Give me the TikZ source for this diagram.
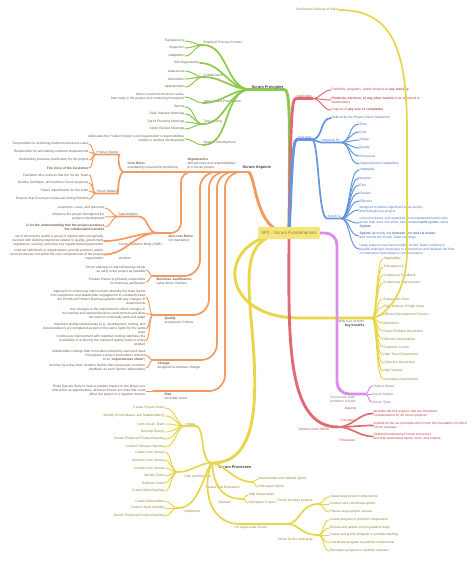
\documentclass[tikz,border=0pt]{standalone}
\usepackage{fontspec}
\setmainfont{Liberation Sans}
\usetikzlibrary{backgrounds}

\definecolor{grnL}{HTML}{8CC84B}
\definecolor{grnT}{HTML}{5F6A4A}
\definecolor{orgL}{HTML}{F29A60}
\definecolor{orgT}{HTML}{6E5A4C}
\definecolor{redL}{HTML}{E16B73}
\definecolor{redT}{HTML}{B8424C}
\definecolor{bluL}{HTML}{6495E0}
\definecolor{bluT}{HTML}{4D74B8}
\definecolor{ylwL}{HTML}{E9D548}
\definecolor{ylwT}{HTML}{8F8130}
\definecolor{prpL}{HTML}{DA8DEB}
\definecolor{prpT}{HTML}{86708A}
\definecolor{sfcF}{HTML}{F5E57E}

\begin{document}
\begin{tikzpicture}[
    x=1pt, y=-1pt,
    font=\fontsize{3.3}{3.9}\selectfont,
    % leaves and titles
    leafL/.style={anchor=east, align=right, inner sep=0.4pt},
    leafR/.style={anchor=west, align=left, inner sep=0.4pt},
    sublbl/.style={inner sep=0.4pt, align=left},
    hub/.style={inner sep=0.4pt, align=left, text=black!75, font=\fontsize{3.9}{4.5}\selectfont\bfseries},
    % line weights
    trunk/.style={line width=2.9pt, line cap=round},
    limb/.style={line width=1.7pt, line cap=round},
    twig/.style={line width=1pt, line cap=round}
]
\useasboundingbox (0,0) rectangle (474,562);

% -------------------------
% CENTER
% -------------------------
\node[fill=sfcF, rounded corners=1.5pt, inner xsep=3pt, inner ysep=4.5pt, text=ylwT, font=\fontsize{4.5}{5}\selectfont] (sfc) at (289,233) {SFC - Scrum Fundamentals};

% -------------------------
% SCRUM PRINCIPLES (green)
% -------------------------
\node[hub, anchor=south west] (sp) at (251,89.5) {Scrum Principles};
\begin{scope}[on background layer]
    \draw[grnL, trunk] (sfc.center) .. controls (290,110) and (290,89.5) .. (sp.south east) -- (sp.south west);
\end{scope}

\node[sublbl, anchor=south west, text=grnT] (epc) at (203,45) {Empirical Process Control};
\node[leafL, text=grnT] (sorg) at (200,63) {Self-Organization};
\node[sublbl, anchor=south west, text=grnT] (col) at (203,77) {Collaboration};
\node[sublbl, anchor=south west, text=grnT] (vbp) at (203,103) {Value-based Prioritization};
\node[sublbl, anchor=south west, text=grnT] (tbx) at (203,124) {Time-boxing};
\node[sublbl, anchor=south west, text=grnT] (itd) at (203,145) {Iterative Development};
\node[leafL, text=grnT] (vbp1) at (185,97) {deliver maximum business value,\\from early in the project and continuing throughout};
\node[leafL, text=grnT] (itd1) at (185,139) {delineates the Product Owner's and organization's responsibilities\\related to iterative development};

\draw[grnL, limb] (sp.south west) to[out=180, in=0] (epc.south west);
\draw[grnL, limb] (sp.south west) to[out=180, in=0] (sorg.east);
\draw[grnL, limb] (sp.south west) to[out=180, in=0] (col.south west);
\draw[grnL, limb] (sp.south west) to[out=180, in=0] (vbp.south west);
\draw[grnL, limb] (sp.south west) to[out=180, in=0] (tbx.south west);
\draw[grnL, limb] (sp.south west) to[out=180, in=0] (itd.south west);
\draw[grnL, twig] (vbp.south west) to[out=180, in=0] (vbp1.east);
\draw[grnL, twig] (itd.south west) to[out=180, in=0] (itd1.east);

\foreach \t/\y [count=\i] in {Transparency/41, Inspection/48, Adaptation/56} {
    \node[leafL, text=grnT] (epc\i) at (185,\y) {\t};
    \draw[grnL, twig] (epc.south west) to[out=180, in=0] (epc\i.east);
}
\foreach \t/\y [count=\i] in {Awareness/71, Articulation/79, Appropriation/87} {
    \node[leafL, text=grnT] (col\i) at (185,\y) {\t};
    \draw[grnL, twig] (col.south west) to[out=180, in=0] (col\i.east);
}
\foreach \t/\y [count=\i] in {Sprints/107, Daily Standup Meetings/114, Sprint Planning Meetings/122, Sprint Review Meetings/129} {
    \node[leafL, text=grnT] (tbx\i) at (185,\y) {\t};
    \draw[grnL, twig] (tbx.south west) to[out=180, in=0] (tbx\i.east);
}

% -------------------------
% APPLICABLE (red, top)
% -------------------------
\node[sublbl, anchor=south west, text=redT] (app) at (296,98.5) {Applicable};
\begin{scope}[on background layer]
    \draw[redL, trunk] (sfc.center) .. controls (291,125) and (291,98.5) .. (app.south west) -- (app.south east);
\end{scope}
\foreach \t/\y [count=\i] in {{Portfolios, programs, and/or projects in \textbf{any industry}}/90,
    {\textbf{Products, services, or any other results} to be delivered to\\stakeholders}/100,
    {Projects of \textbf{any size or complexity}}/110} {
    \node[leafR, text=redT] (app\i) at (331,\y) {\t};
    \draw[redL, twig] (app.south east) to[out=0, in=180] (app\i.west);
}

% -------------------------
% OVERVIEW (blue)
% -------------------------
\node[sublbl, anchor=south west, text=bluT] (ovw) at (297,139.5) {Overview};
\begin{scope}[on background layer]
    \draw[bluL, trunk] (sfc.center) .. controls (292,178) and (292,139.5) .. (ovw.south west) -- (ovw.south east);
\end{scope}
\node[leafR, text=bluT] (pvs) at (331,118) {Defined by the Project Vision Statement};
\node[sublbl, anchor=south west, text=bluT] (ibt) at (321,142.5) {Impacted By};
\node[sublbl, anchor=south west, text=bluT] (sci) at (327,218.5) {Scrum is};

\draw[bluL, limb] (ovw.south east) to[out=0, in=180] (pvs.west);
\draw[bluL, limb] (ovw.south east) to[out=0, in=180] (ibt.south west) -- (ibt.south east);
\draw[bluL, limb] (ovw.south east) .. controls (319,139.5) and (318,218.5) .. (sci.south west) -- (sci.south east);

\foreach \t/\y [count=\i] in {Time/124, Cost/132, Scope/140, Quality/148, Resources/156, Organizational Capabilities/164} {
    \node[leafR, text=bluT] (ibt\i) at (359,\y) {\t};
    \draw[bluL, twig] (ibt.south east) to[out=0, in=180] (ibt\i.west);
}
\foreach \t/\y [count=\i] in {Adaptable/170, Iterative/178, Fast/185, Flexible/193, Effective/201,
    {designed to deliver significant value quickly\\and throughout a project}/210,
    {cross-functional, self-organized, and empowered teams who\\divide their work into short, concentrated \textbf{work cycles} called\\\textbf{Sprints}}/223,
    {\textbf{Sprints} generally last \textbf{between one and six weeks}\\and include the Scrum Team meetings}/236,
    {Large projects may have multiple Scrum Teams working in\\parallel making it necessary to synchronize and facilitate the flow\\of information and enhance communication}/249} {
    \node[leafR, text=bluT] (sci\i) at (359,\y) {\t};
    \draw[bluL, twig] (sci.south east) .. controls (350,218.5) and (349,\y) .. (sci\i.west);
}

% -------------------------
% SCRUM ASPECTS (orange)
% -------------------------
\node[hub, anchor=south west] (sas) at (242,169.5) {Scrum Aspects};
\coordinate (saj) at (248,172);
\coordinate (orgf) at (193,172);
\coordinate (crf) at (124,172);
\coordinate (ncf) at (157,233);
\coordinate (bjf) at (153,276);
\coordinate (qf) at (153,315);
\coordinate (cf) at (153,360);
\coordinate (rf) at (153,391);
\begin{scope}[on background layer]
    \draw[orgL, trunk] (sfc.center) .. controls (254,233) and (256,172) .. (saj);
\end{scope}

\node[sublbl, anchor=south west, text=orgT] (org) at (187,170) {\textbf{Organization}\\defined roles and responsibilities\\in a Scrum project};
\node[sublbl, anchor=south west, text=orgT] (crl) at (127,170) {\textbf{Core Roles}\\mandatorily required for producing};
\node[sublbl, anchor=north west, text=orgT] (ncr) at (168,235) {\textbf{Non-core Roles}\\not mandatory};
\node[sublbl, anchor=north west, text=orgT] (bjl) at (156,277.5) {\textbf{Business Justification}\\value driven Delivery};
\node[sublbl, anchor=north west, text=orgT] (ql) at (164,317) {\textbf{Quality}\\acceptance Criteria};
\node[sublbl, anchor=north west, text=orgT] (chl) at (157,362) {\textbf{Change}\\designed to embrace change};
\node[sublbl, anchor=north west, text=orgT] (rkl) at (164,393) {\textbf{Risk}\\uncertain event};

\draw[orgL, limb] (saj) -- (orgf) -- (crf);
\draw[orgL, limb, rounded corners=10pt] (orgf) -| (181,233) -- (ncf);
\draw[orgL, limb, rounded corners=16pt] (saj) -| (200,276) -- (bjf);
\draw[orgL, limb, rounded corners=16pt] (saj) -| (209,315) -- (qf);
\draw[orgL, limb, rounded corners=16pt] (saj) -| (217,360) -- (cf);
\draw[orgL, limb, rounded corners=16pt] (saj) -| (225,391) -- (rf);

% core roles
\node[sublbl, anchor=south west, text=orgT] (pol) at (96,154.5) {Product Owner};
\node[sublbl, anchor=south west, text=orgT] (sml) at (96,193.5) {Scrum Master};
\draw[orgL, limb] (crf) .. controls (118,172) and (118,154.5) .. (pol.south east) -- (pol.south west);
\draw[orgL, limb] (crf) .. controls (118,172) and (118,193.5) .. (sml.south east) -- (sml.south west);
\foreach \t/\y [count=\i] in {Responsible for achieving maximum business value/144,
    Responsible for articulating customer requirements/152,
    Maintaining business justification for the project/160,
    \textbf{The Voice of the Customer}/168} {
    \node[leafL, text=orgT] (pol\i) at (89,\y) {\t};
    \draw[orgL, twig] (pol.south west) .. controls (92,154.5) and (93,\y) .. (pol\i.east);
}
\foreach \t/\y [count=\i] in {Facilitator who ensures that the Scrum Team/175,
    {Guides, facilitates, and teaches Scrum practices}/183,
    Clears impediments for the team/191,
    Ensures that Scrum processes are being followed/199} {
    \node[leafL, text=orgT] (sml\i) at (89,\y) {\t};
    \draw[orgL, twig] (sml.south west) .. controls (92,193.5) and (93,\y) .. (sml\i.east);
}

% non-core roles
\node[sublbl, anchor=south west, text=orgT] (stk) at (118,216.5) {Stakeholders};
\node[sublbl, anchor=north west, text=orgT] (sgb) at (118,242.5) {Scrum Guidance Body (SGB)};
\node[sublbl, anchor=north west, text=orgT] (vnd) at (118,256.5) {Vendors};
\node[leafL, text=orgT] (sgb1) at (104,241) {set of documents and/or a group of experts who are typically\\involved with defining objectives related to quality, government\\regulations, security, and other key organizational parameters};
\node[leafL, text=orgT] (vnd1) at (104,254.5) {external individuals or organizations, provide products and/or\\services that are not within the core competencies of the project\\organization};
\draw[orgL, limb] (ncf) to[out=180, in=0] (stk.south east) -- (stk.south west);
\draw[orgL, limb] (ncf) to[out=180, in=0] (sgb1.east);
\draw[orgL, limb] (ncf) to[out=180, in=0] (vnd1.east);
\foreach \t/\y [count=\i] in {{customers, users, and sponsors}/208,
    {influence the project throughout the\\project's development}/217,
    {\textbf{is for the understanding that the project produces}\\\textbf{the collaborative benefits}}/227} {
    \node[leafL, text=orgT] (stk\i) at (105,\y) {\t};
    \draw[orgL, twig] (stk.south west) to[out=180, in=0] (stk\i.east);
}

% business justification, quality, change, risk
\foreach \t/\y [count=\i] in {{Scrum attempts to start delivering results\\as early in the project as possible}/270,
    {Product Owner is primarily responsible\\for business justification}/282} {
    \node[leafL, text=orgT] (bj\i) at (146,\y) {\t};
    \draw[orgL, twig] (bjf) .. controls (149,276) and (150,\y) .. (bj\i.east);
}
\foreach \t/\y [count=\i] in {{Approach of continuous improvement whereby the team learns\\from experience and stakeholder engagement to constantly keep\\the Prioritized Product Backlog updated with any changes in\\requirements}/297.5,
    {Any changes to the requirements reflect changes in\\the internal and external business environment and allow\\the team to continually work and adapt}/313.5,
    {Important quality-related tasks (e.g., development, testing, and\\documentation) are completed as part of the same Sprint by the same\\team}/328.5,
    {Continuous improvement with repetitive testing optimizes the\\probability of achieving the expected quality levels in every\\product}/340.5} {
    \node[leafL, text=orgT] (q\i) at (146,\y) {\t};
    \draw[orgL, twig] (qf) .. controls (149,315) and (150,\y) .. (q\i.east);
}
\foreach \t/\y [count=\i] in {{Stakeholders change their mind about what they want and need\\throughout a project (sometimes referred\\to as ``\textbf{requirements churn}'')}/355.5,
    {Iterative by using short, iterative Sprints that incorporate customer\\feedback on each Sprint's deliverables}/368} {
    \node[leafL, text=orgT] (c\i) at (146,\y) {\t};
    \draw[orgL, twig] (cf) .. controls (149,360) and (150,\y) .. (c\i.east);
}
\node[leafL, text=orgT] (r1) at (146,391) {Risks that are likely to have a positive impact on the project are\\referred to as opportunities, whereas threats are risks that could\\affect the project in a negative manner};
\draw[orgL, twig] (rf) -- (r1.east);

% -------------------------
% KEY BENEFITS (yellow)
% -------------------------
\coordinate (kbf) at (372,318);
\begin{scope}[on background layer]
    \draw[ylwL, trunk] (sfc.center) .. controls (215,235) and (215,318) .. (300,318) -- (kbf);
\end{scope}
\node[sublbl, anchor=north east, align=right, text=black!60] (kbl) at (365,320) {Why Use Scrum?\\\textbf{\color{black!80}Key benefits}};
\foreach \t/\y [count=\i] in {Adaptability/259, Transparency/267, Continuous Feedback/275, Continuous Improvement/283,
    Sustainable Pace/299, Early Delivery of High Value/307, Efficient Development Process/315, Motivation/323,
    Faster Problem Resolution/331, Effective Deliverables/339, Customer Centric/347, High Trust Environment/355,
    Collective Ownership/363, High Velocity/371, Innovative Environment/379} {
    \node[leafR, text=ylwT] (kb\i) at (383,\y) {\t};
    \draw[ylwL, twig] (kbf) .. controls (377,318) and (376,\y) .. (kb\i.west);
}
\node[leafL, text=ylwT] (cdv) at (339,10) {Continuous Delivery of Value};
\draw[ylwL, limb] (kbf) .. controls (380,318) and (407,300) .. (407,250) -- (407,130) .. controls (407,45) and (390,10) .. (cdv.east);

% -------------------------
% SCRUM CORE TEAM (purple)
% -------------------------
\coordinate (stf) at (365,394);
\begin{scope}[on background layer]
    \draw[prpL, trunk, rounded corners=12pt] (sfc.center) -| (337,394) -- (stf);
\end{scope}
\node[sublbl, anchor=north east, align=right, text=prpT] (sct) at (356,396) {Scrum core team\\members include};
\foreach \t/\y [count=\i] in {Product Owner/386, Scrum Master/394, Scrum Team/402} {
    \node[leafR, text=prpT] (sct\i) at (372,\y) {\t};
    \draw[prpL, twig] (stf) to[out=0, in=180] (sct\i.west);
}

% -------------------------
% DIVISION OF THE SBOK (red, bottom)
% -------------------------
\coordinate (dvf) at (338,427);
\begin{scope}[on background layer]
    \draw[redL, trunk] (sfc.center) .. controls (289,330) and (284,427) .. (dvf);
\end{scope}
\node[sublbl, anchor=north, text=redT] (dvl) at (314,428) {Division of the SBOK};
\node[sublbl, anchor=south west, text=redT] (asp) at (344,411) {Aspects};
\node[sublbl, anchor=south west, text=redT] (prn) at (340,423) {Principles};
\node[sublbl, anchor=north west, text=redT] (prc) at (339,439) {Processes};
\node[leafR, text=redT] (asp1) at (373,413.5) {describe the five aspects that are important\\considerations for all Scrum projects};
\node[leafR, text=redT] (prn1) at (373,425.5) {expand on the six principles which form the foundation on which\\Scrum is based};
\node[leafR, text=redT] (prc1) at (373,436.5) {Detailed fundamental Scrum processes\\and their associated inputs, tools, and outputs};
\draw[redL, limb] (dvf) to[out=0, in=180] (asp1.west);
\draw[redL, limb] (dvf) to[out=0, in=180] (prn1.west);
\draw[redL, limb] (dvf) to[out=0, in=180] (prc1.west);

% -------------------------
% SCRUM PROCESSES (yellow)
% -------------------------
\coordinate (spj) at (212,463);
\coordinate (pef) at (178,472);
\coordinate (imf) at (178,508);
\coordinate (rrf) at (252,482);
\coordinate (relf) at (243,499);
\coordinate (lsf) at (287,524);
\coordinate (slpf) at (318,504);
\coordinate (sfef) at (318,535);
\begin{scope}[on background layer]
    \draw[ylwL, trunk] (sfc.center) .. controls (245,235) and (246,265) .. (252,330) .. controls (258,400) and (258,463) .. (spj);
\end{scope}
\node[hub, anchor=north west] (spl) at (218,465) {Scrum Processes};
\node[sublbl, anchor=south west, text=ylwT] (inl) at (185,426) {Initiate};
\node[sublbl, anchor=north west, text=ylwT] (pel) at (184,474.5) {Plan and Estimate};
\node[sublbl, anchor=north west, text=ylwT] (iml) at (184,510) {Implement};
\node[sublbl, anchor=north west, text=ylwT] (rrl) at (205,485.5) {Review and Retrospect};
\node[sublbl, anchor=north west, text=ylwT] (rell) at (218,500.5) {Release};
\node[sublbl, anchor=north west, text=ylwT] (lsl) at (234,525.5) {For large scale Scrum};
\node[sublbl, anchor=south west, text=ylwT] (slpl) at (277,503) {Scrum for large projects};
\node[sublbl, anchor=north west, text=ylwT] (sfel) at (277,537.5) {Scrum for the enterprise};

\draw[ylwL, limb] (spj) .. controls (200,463) and (205,426) .. (inl.south east) -- (inl.south west);
\draw[ylwL, limb] (spj) to[out=180, in=0] (pef);
\draw[ylwL, limb] (spj) .. controls (204,470) and (200,508) .. (imf);
\draw[ylwL, limb] (spj) .. controls (225,465) and (235,482) .. (rrf);
\draw[ylwL, limb] (spj) .. controls (214,490) and (225,499) .. (relf);
\draw[ylwL, limb] (spj) .. controls (203,480) and (205,524) .. (240,524) -- (lsf);
\draw[ylwL, limb] (lsf) .. controls (300,524) and (300,504) .. (slpf);
\draw[ylwL, limb] (lsf) .. controls (300,524) and (300,535) .. (sfef);

\foreach \t/\y [count=\i] in {Create Project Vision/408, Identify Scrum Master and Stakeholder(s)/416, Form Scrum Team/424,
    Develop Epic(s)/432, Create Prioritized Product Backlog/439, Conduct Release Planning/447} {
    \node[leafL, text=ylwT] (inl\i) at (165,\y) {\t};
    \draw[ylwL, twig] (inl.south west) .. controls (176,426) and (176,\y) .. (inl\i.east);
}
\foreach \t/\y [count=\i] in {Create User Stories/452, Estimate User Stories/460, Commit User Stories/468,
    Identify Tasks/476, Estimate Tasks/483, Create Sprint Backlog/491} {
    \node[leafL, text=ylwT] (pel\i) at (165,\y) {\t};
    \draw[ylwL, twig] (pef) .. controls (171,472) and (171,\y) .. (pel\i.east);
}
\foreach \t/\y [count=\i] in {Create Deliverables/501, Conduct Daily Standup/508, Groom Prioritized Product Backlog/516} {
    \node[leafL, text=ylwT] (iml\i) at (165,\y) {\t};
    \draw[ylwL, twig] (imf) .. controls (171,508) and (171,\y) .. (iml\i.east);
}
\foreach \t/\y [count=\i] in {Demonstrate and Validate Sprint/479, Retrospect Sprint/487} {
    \node[leafR, text=ylwT] (rrl\i) at (258,\y) {\t};
    \draw[ylwL, twig] (rrf) to[out=0, in=180] (rrl\i.west);
}
\foreach \t/\y [count=\i] in {Ship Deliverables/495, Retrospect Project/503} {
    \node[leafR, text=ylwT] (rell\i) at (248,\y) {\t};
    \draw[ylwL, twig] (relf) to[out=0, in=180] (rell\i.west);
}
\foreach \t/\y [count=\i] in {Create large project components/497, Conduct and coordinate sprints/504, Prepare large project release/512} {
    \node[leafR, text=ylwT] (slp\i) at (329,\y) {\t};
    \draw[ylwL, twig] (slpf) .. controls (324,504) and (323,\y) .. (slp\i.west);
}
\foreach \t/\y [count=\i] in {Create program or portfolio components/520, Review and update scrum guidance body/528,
    Create and groom program or portfolio backlog/535, Coordinate program or portfolio components/543,
    Retrospect program or portfolio releases/551} {
    \node[leafR, text=ylwT] (sfe\i) at (329,\y) {\t};
    \draw[ylwL, twig] (sfef) .. controls (324,535) and (323,\y) .. (sfe\i.west);
}

\end{tikzpicture}
\end{document}
